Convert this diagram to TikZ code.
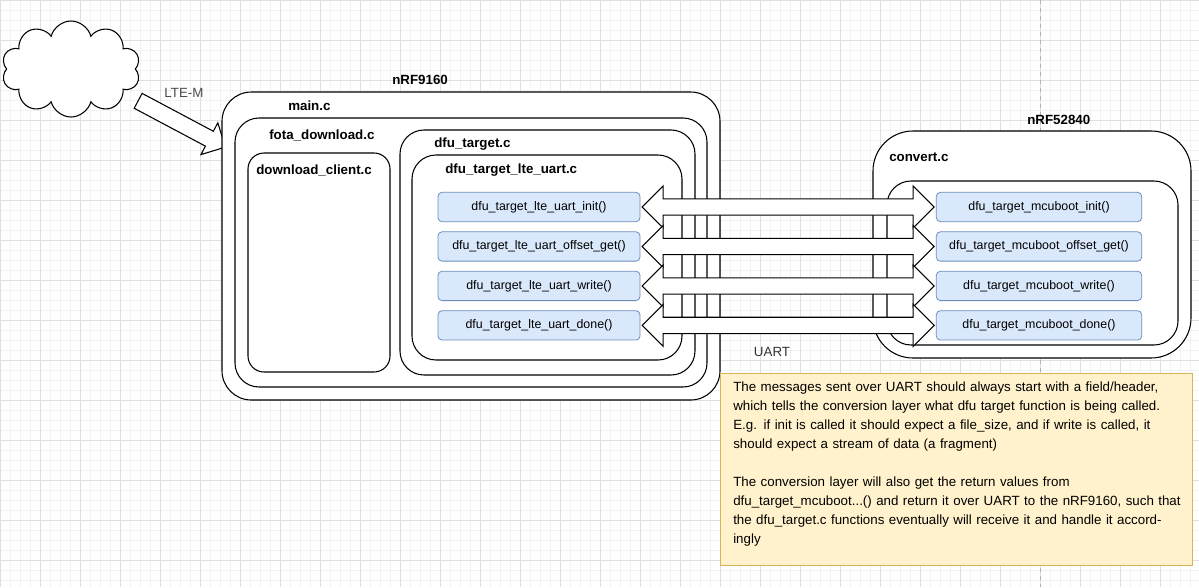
\documentclass[tikz,border=0pt]{standalone}
\usepackage{fontspec}
\setmainfont{Liberation Sans}
\usetikzlibrary{calc,positioning,shapes.symbols,shapes.arrows,backgrounds}
\definecolor{blueFill}{HTML}{DAE8FC}
\definecolor{blueLine}{HTML}{6C8EBF}
\definecolor{noteFill}{HTML}{FFF2CC}
\definecolor{noteLine}{HTML}{D6B656}
\tikzset{
	box/.style={draw,thick,rounded corners=22pt,fill=white},
	lbl/.style={font=\fontsize{10}{12}\selectfont\bfseries,anchor=west,inner sep=0},
	func/.style={draw=blueLine,semithick,fill=blueFill,rounded corners=3pt,minimum width=151.5pt,minimum height=22pt,inner sep=0,font=\fontsize{9.3}{11}\selectfont},
	link/.style={draw,thick,fill=white,shape=double arrow,minimum height=219pt,minimum width=31.5pt,double arrow head extend=8.5pt,double arrow head indent=0pt,inner sep=5pt},
}
\begin{document}
\begin{tikzpicture}[x=0.75pt,y=-0.75pt]
		\useasboundingbox (0,0) rectangle (1199,587);
		% grid
		\draw[gray!10,step=7.5pt] (0,0) grid (1199,587);
		\draw[gray!25,step=30pt] (0,0) grid (1199,587);
		\draw[gray!60,dashed] (1040,0) -- (1040,587);
		% cloud and LTE-M link
		\node(cloud) [shape=cloud,draw,thick,fill=white,cloud puffs=10,aspect=1.5,minimum width=104pt,minimum height=72pt] at (71,69) {};
		\node(lte) [font=\fontsize{10}{12}\selectfont,text=black!70] at (184,93) {LTE-M};
		\node(uplink) [draw,thick,fill=white,shape=single arrow,rotate=-28,minimum height=74pt,minimum width=27pt,single arrow head extend=5pt,inner sep=4pt] at (178,122) {};
		% nRF9160
		\node(nrf9160) [lbl] at (392,80) {nRF9160};
		\draw[box] (222,92) rectangle (720,400);
		\node(mainc) [lbl] at (288,106) {main.c};
		\draw[box,rounded corners=18pt] (235,118) rectangle (707,387);
		\node(fota) [lbl] at (269,135) {fota\_download.c};
		\draw[box,rounded corners=12pt] (248,153) rectangle (390,372);
		\node(dlclient) [lbl] at (256,170) {download\_client.c};
		\draw[box,rounded corners=18pt] (400,130) rectangle (695,375);
		\node(dfutarget) [lbl] at (434,144) {dfu\_target.c};
		\draw[box,rounded corners=18pt] (412,155) rectangle (682,360);
		\node(lteuart) [lbl] at (445,170) {dfu\_target\_lte\_uart.c};
		\node(linit) [func] at (539,207) {dfu\_target\_lte\_uart\_init()};
		\node(loffset) [func,below=7pt of linit] {dfu\_target\_lte\_uart\_offset\_get()};
		\node(lwrite) [func,below=7pt of loffset] {dfu\_target\_lte\_uart\_write()};
		\node(ldone) [func,below=7pt of lwrite] {dfu\_target\_lte\_uart\_done()};
		% nRF52840
		\node(nrf52840) [lbl] at (1027,120) {nRF52840};
		\draw[box,rounded corners=30pt] (873,131) rectangle (1191,358);
		\node(convert) [lbl] at (889,157) {convert.c};
		\draw[box,rounded corners=18pt] (887,181) rectangle (1178,345);
		\node(rinit) [func,minimum width=154pt] at (1039,207) {dfu\_target\_mcuboot\_init()};
		\node(roffset) [func,minimum width=154pt,below=7pt of rinit] {dfu\_target\_mcuboot\_offset\_get()};
		\node(rwrite) [func,minimum width=154pt,below=7pt of roffset] {dfu\_target\_mcuboot\_write()};
		\node(rdone) [func,minimum width=154pt,below=7pt of rwrite] {dfu\_target\_mcuboot\_done()};
		% UART links
		\foreach \l/\r in {linit/rinit,loffset/roffset,lwrite/rwrite,ldone/rdone}
			\node [link] at ($(\l.east)!0.5!(\r.west)$) {};
		\node(uart) [font=\fontsize{10}{12}\selectfont,text=black!80] at (772,352) {UART};
		% note
		\node(note) [draw=noteLine,fill=noteFill,anchor=north west,minimum width=354pt,minimum height=144pt,inner sep=0] at (720,373) {};
		\node [anchor=north west,text width=336pt,align=left,font=\fontsize{10}{14.2}\selectfont,inner sep=0] at (733,382) {The messages sent over UART should always start with a field/header, which tells the conversion layer what dfu target function is being called. E.g. if init is called it should expect a file\_size, and if write is called, it should expect a stream of data (a fragment)\\[14.2pt]
The conversion layer will also get the return values from dfu\_target\_mcuboot...() and return it over UART to the nRF9160, such that the dfu\_target.c functions eventually will receive it and handle it accordingly};
	\end{tikzpicture}
\end{document}
